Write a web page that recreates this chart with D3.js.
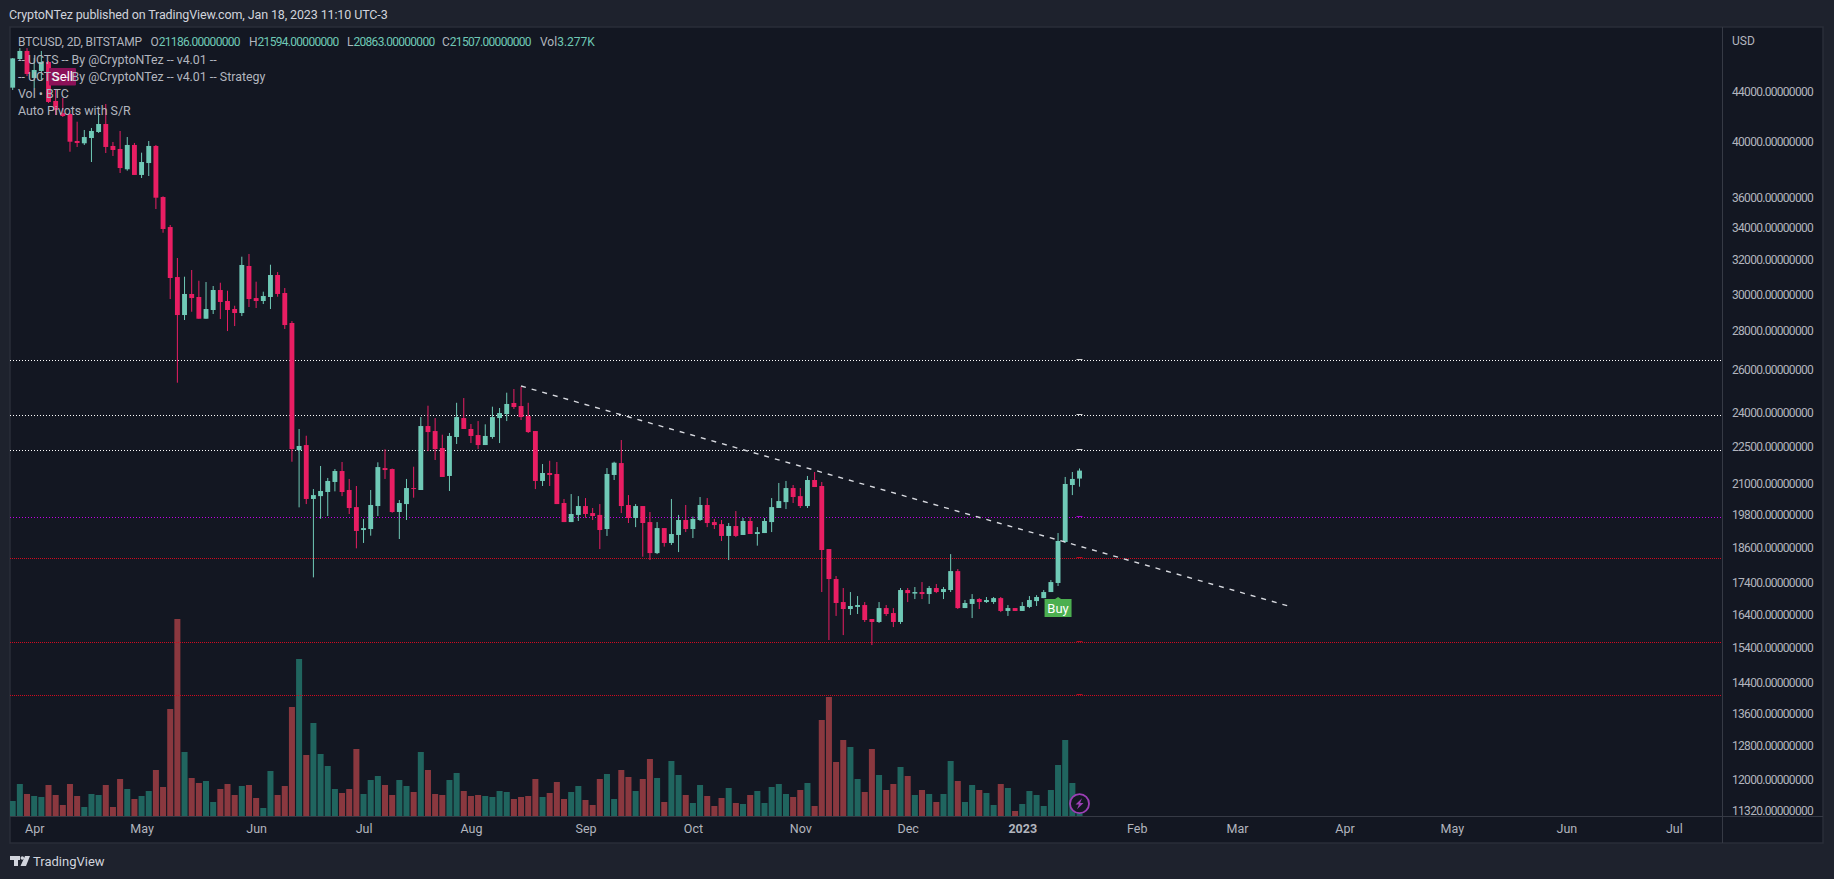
<!DOCTYPE html>
<html>
<head>
<meta charset="utf-8">
<title>BTCUSD</title>
<script src="https://cdn.jsdelivr.net/npm/d3@7"></script>
<style>
  html, body { margin: 0; padding: 0; background: #1e222d; overflow: hidden; }
  text { font-family: Roboto, sans-serif; }
  .domain { display: none; }
</style>
</head>
<body>
<svg id="chart" width="1834" height="879"></svg>
<script>
// BTCUSD 2D candles
var opens = [44320,46785,47500,45140,45740,46520,43220,42230,42170,40075,
  39900,40300,40760,41380,39700,39475,37990,39775,37585,38440,
  39700,36050,34065,30995,28850,30020,29850,28650,29125,30246,
  29625,29180,28960,31650,29790,29625,29850,31115,30075,28420,
  22359,22570,20385,20495,20655,21050,21490,20733,20075,19224,
  19260,20115,21610,21570,19890,20190,20810,20733,23395,23175,
  22445,21290,22915,23750,23265,23000,22570,22915,23750,23930,
  24435,24295,23840,23175,21090,21410,21370,20230,19515,19780,
  20115,19850,19780,19260,21330,21815,20155,19665,20115,19515,
  18405,19295,18760,19045,19591,19260,19591,20155,19515,19440,
  19010,19370,19045,19555,19080,19115,19515,20040,20265,20810,
  20495,20115,21128,20890,18545,17525,16780,16560,16625,16685,
  16250,16160,16590,16435,16160,17165,17050,17100,17035,17230,
  17100,17165,17790,16590,16720,16875,16780,16780,16905,16500,
  16590,16500,16625,16810,16905,17100,17395,18795,20930,21186];

var highs = [46870,47760,47760,46870,47500,46610,44125,43460,42230,41560,
  40915,41070,42250,42975,40000,40840,40375,39925,39200,40075,
  39775,36100,34195,32130,31015,31410,30780,30705,30475,30665,
  30205,29360,32210,32375,30725,30150,31725,31290,30360,28525,
  23265,22970,20770,21695,21210,21570,21860,21170,20890,19630,
  20733,21845,22390,21590,20345,21170,21665,23795,24310,23750,
  23015,23090,24445,24665,23485,23615,23470,24265,24205,24915,
  25090,25200,24445,23175,21775,21910,21860,20385,20575,20495,
  20420,20040,20190,21610,21870,22785,20535,20190,20115,19890,
  19515,19295,20385,19780,20155,19715,20460,20420,19630,19591,
  19480,19925,19665,19700,19330,19665,20420,21010,21090,20930,
  20810,21290,21450,21050,18545,17625,17230,17100,16970,16780,
  16250,16780,16685,16590,17230,17230,17262,17425,17295,17360,
  17262,18370,17860,16844,17035,16905,16940,16940,16940,16685,
  16590,16780,16970,17000,17165,17492,19115,21250,21450,21594];

var lows = [44125,46610,45300,44290,44965,43060,42090,41930,39270,39625,
  39775,38515,40685,39175,38955,37725,37890,37585,37370,37510,
  35245,33700,29735,25390,28580,29030,28650,28650,28905,28635,
  27990,28255,28795,29290,29235,29455,29180,29865,28100,21870,
  20065,20190,17580,19640,19740,20680,20495,19815,18570,18760,
  19020,19740,21170,19860,18900,19591,20435,20733,22315,21941,
  21250,20695,22615,23265,22655,22400,22570,22840,22655,23615,
  24160,23662,23090,20770,20890,20890,20190,19515,19515,19555,
  19675,19591,18545,19010,21128,19850,19480,19330,18280,18165,
  18370,18630,18690,18440,19150,18935,19555,19330,19260,18830,
  18165,18970,19045,19080,18665,19115,19150,20040,20000,20230,
  20040,20040,20850,17100,15618,16345,15765,16375,16405,16160,
  15470,16130,16345,16005,16100,16780,16875,16875,16720,17065,
  16875,17100,16560,16590,16280,16560,16750,16720,16465,16345,
  16500,16500,16590,16655,16905,17100,17295,18760,20535,20863];

var closes = [46840,47500,45480,45820,46520,43140,42490,42010,40020,39925,
  40375,40840,41380,39625,39400,38080,39775,37585,38515,39700,
  36005,33940,30940,28850,30020,29790,28650,29180,30246,29570,
  29125,28960,31710,29735,29625,29905,31115,30020,28310,22400,
  22530,20385,20535,20695,21090,21490,20655,20040,19190,19295,
  20155,21650,21530,19890,20230,20810,20770,23395,23130,22400,
  21250,22960,23795,23265,22960,22570,22960,23795,23975,24390,
  24250,23795,23130,21090,21410,21330,20190,19515,19815,20115,
  19815,19740,19224,21370,21830,20115,19665,20115,19480,18405,
  19295,18760,19080,19591,19260,19630,20155,19480,19405,19010,
  19370,19010,19555,19080,19150,19555,20075,20305,20810,20460,
  20115,21128,20850,18512,17525,16750,16560,16655,16685,16220,
  16160,16590,16405,16160,17165,17065,17100,17035,17230,17100,
  17197,17790,16590,16750,16875,16780,16844,16905,16500,16590,
  16500,16655,16844,16940,17100,17425,18830,20970,21170,21507];

// volume in thousand BTC
var volumes = [7.5,16,11,10,9.5,15.5,10.5,5.5,16,10,
  4.5,11,10.5,15.5,4.5,18.5,13.5,8.5,10,12.5,
  23,14.5,53.5,98.5,32,19,16.5,17.5,7,13.5,
  16,10.5,15,15.5,9,4,22.5,10.5,15,54.5,
  78.5,30.5,46.5,31,25,13.5,11.5,13.5,33.5,11,
  18,20,15.5,10.5,18,15,12,32,23,11,
  10.5,18,21.5,12.5,10,10.5,10,9.5,12.5,12,
  8.5,9.5,10,18.5,9.5,11.5,17,8.5,12,15,
  8,5.5,18.5,21,8.5,23,19.5,12.5,18.5,28.5,
  19,7,27.5,20.5,10.5,6.5,15.5,10,5,9,
  14,6.5,6,10.5,12.5,6.5,14.5,16,11,9.5,
  13,16.5,5,48,59.5,27,38,34.5,18.5,12,
  33.5,20.5,13,16,24.5,20,10.5,13,11,7,
  11,27.5,17.5,7,15.5,13,11.5,5.5,16,14,
  2.5,6,12.5,10.5,5,13,25.5,38,16.5,3.277];

var priceTicks = [44000,40000,36000,34000,32000,30000,28000,26000,24000,22500,
  21000,19800,18600,17400,16400,15400,14400,13600,12800,12000,11320];

var timeTickBars = [3,18,34,49,64,80,95,110,125,141,157,171,186,201,217,232];
var timeLabels = ["Apr","May","Jun","Jul","Aug","Sep","Oct","Nov","Dec","2023","Feb","Mar","Apr","May","Jun","Jul"];

var whiteLevels = [26480,23870,22345];
var purpleLevels = [19715];
var redLevels = [18225,15570,14070];

var trendBars = [71,178];
var trendPrices = [25230,16665];

var legendLines = ["-- UCTS -- By @CryptoNTez -- v4.01 --",
  "-- UCTS -- By @CryptoNTez -- v4.01 -- Strategy",
  "Vol \u2022 BTC",
  "Auto Pivots with S/R"];

var sellBar = 5, buyBar = 146;

var plot = {left: 10, right: 1722, top: 28, bottom: 816, outerRight: 1823, outerBottom: 843};
var upColor = "#6fc9b6", downColor = "#e91e63", volUp = "#20655f", volDown = "#8a383f";
var axisText = "#b2b5be";

var svg = d3.select("#chart");

var x = d3.scaleLinear().domain([0, 232]).range([12.7, 1673.8]);
var y = d3.scaleLog().domain([11320, 44000]).range([810.5, 91.5]);
var yVol = d3.scaleLinear().domain([0, 100]).range([816, 616]);

var barStep = x(1) - x(0);
var idx = d3.range(opens.length);

// panel
svg.append("rect").attr("width", 1834).attr("height", 879).attr("fill", "#1e222d");
svg.append("rect")
  .attr("x", plot.left).attr("y", plot.top - 1)
  .attr("width", plot.outerRight - plot.left).attr("height", plot.outerBottom - plot.top + 1)
  .attr("fill", "#131722").attr("stroke", "#2a2e39").attr("stroke-width", 1.5);

var defs = svg.append("defs");
defs.append("clipPath").attr("id", "plotClip").append("rect")
  .attr("x", plot.left).attr("y", plot.top)
  .attr("width", plot.right - plot.left).attr("height", plot.bottom - plot.top);

var g = svg.append("g").attr("clip-path", "url(#plotClip)");

// volume
g.selectAll(".vol")
  .data(idx)
  .enter().append("rect")
  .attr("class", "vol")
  .attr("x", function(i) { return x(i) - barStep * 0.42; })
  .attr("width", barStep * 0.84)
  .attr("y", function(i) { return yVol(volumes[i]); })
  .attr("height", function(i) { return yVol(0) - yVol(volumes[i]); })
  .attr("fill", function(i) { return closes[i] >= opens[i] ? volUp : volDown; });

// horizontal levels
function drawLevels(levels, color, dash, opacity) {
  levels.forEach(function(v) {
    var ly = Math.round(y(v)) + 0.5;
    g.append("line")
      .attr("x1", plot.left).attr("x2", plot.right)
      .attr("y1", ly).attr("y2", ly)
      .attr("stroke", color).attr("stroke-width", 1)
      .attr("stroke-dasharray", dash).attr("opacity", opacity);
    g.append("line")
      .attr("x1", x(opens.length - 1) - 3).attr("x2", x(opens.length - 1) + 3)
      .attr("y1", ly - 1).attr("y2", ly - 1)
      .attr("stroke", color).attr("stroke-width", 1).attr("opacity", 0.8);
  });
}
drawLevels(whiteLevels, "#ffffff", "1,2", 1);
drawLevels(purpleLevels, "#c400e8", "1,2", 1);
drawLevels(redLevels, "#d00a20", "1,1", 1);

// candles
g.selectAll(".wick")
  .data(idx)
  .enter().append("line")
  .attr("class", "wick")
  .attr("x1", function(i) { return x(i); })
  .attr("x2", function(i) { return x(i); })
  .attr("y1", function(i) { return y(highs[i]); })
  .attr("y2", function(i) { return y(lows[i]); })
  .attr("stroke", function(i) { return closes[i] >= opens[i] ? upColor : downColor; })
  .attr("stroke-width", 1);

g.selectAll(".body")
  .data(idx)
  .enter().append("rect")
  .attr("class", "body")
  .attr("x", function(i) { return x(i) - barStep * 0.34; })
  .attr("width", barStep * 0.68)
  .attr("y", function(i) { return y(Math.max(opens[i], closes[i])); })
  .attr("height", function(i) { return Math.max(1, Math.abs(y(opens[i]) - y(closes[i]))); })
  .attr("fill", function(i) { return closes[i] >= opens[i] ? upColor : downColor; });

// trend line
g.append("path")
  .datum(d3.zip(trendBars, trendPrices))
  .attr("d", d3.line()
    .x(function(d) { return x(d[0]); })
    .y(function(d) { return y(d[1]); }))
  .attr("fill", "none")
  .attr("stroke", "#d8dae0")
  .attr("stroke-width", 1.4)
  .attr("stroke-dasharray", "5,6");

// buy / sell labels
var sellX = x(sellBar) + 14;
g.append("rect")
  .attr("x", sellX - 13.5).attr("y", 68).attr("width", 27).attr("height", 17.5)
  .attr("rx", 1).attr("fill", "#8c1158");

var buyX = x(buyBar);
g.append("path")
  .attr("d", "M" + (buyX - 13.5) + ",599 H" + (buyX - 3) + " L" + buyX + ",597 L" + (buyX + 3) + ",599 H" + (buyX + 13.5) + " V617 H" + (buyX - 13.5) + " Z")
  .attr("fill", "#4caf50");
g.append("text")
  .attr("x", buyX).attr("y", 612.5).attr("text-anchor", "middle")
  .attr("font-size", 13).attr("fill", "#ffffff").text("Buy");

// bolt icon on the last bar
var iconX = x(opens.length - 1), iconY = 803.7;
g.append("circle")
  .attr("cx", iconX).attr("cy", iconY).attr("r", 9.5)
  .attr("fill", "#131722").attr("stroke", "#9c3fb5").attr("stroke-width", 1.8);
g.append("path")
  .attr("transform", "translate(" + iconX + "," + iconY + ")")
  .attr("d", "M2.5,-5.5 L-4,0.8 H-0.6 L-2.5,5.5 L4,-0.8 H0.6 Z")
  .attr("fill", "#9c3fb5");

// axes
var yAxis = d3.axisRight(y)
  .tickValues(priceTicks)
  .tickSize(0)
  .tickPadding(0)
  .tickFormat(function(d) { return d.toFixed(8); });

svg.append("g")
  .attr("class", "yaxis")
  .attr("transform", "translate(1732,0)")
  .call(yAxis)
  .selectAll("text")
  .attr("font-family", "Roboto, sans-serif")
  .attr("font-size", 12)
  .attr("letter-spacing", "-0.7px")
  .attr("fill", axisText);

var xAxis = d3.axisBottom(x)
  .tickValues(timeTickBars)
  .tickSize(0)
  .tickPadding(0)
  .tickFormat(function(d, i) { return timeLabels[i]; });

svg.append("g")
  .attr("class", "xaxis")
  .attr("transform", "translate(0,824)")
  .call(xAxis)
  .selectAll("text")
  .attr("font-family", "Roboto, sans-serif")
  .attr("font-size", 12.5)
  .attr("font-weight", function(d, i) { return timeLabels[i] === "2023" ? 700 : 400; })
  .attr("fill", axisText);

// axis frame lines
svg.append("line")
  .attr("x1", plot.left).attr("x2", plot.outerRight)
  .attr("y1", 816.5).attr("y2", 816.5)
  .attr("stroke", "#363a45");
svg.append("line")
  .attr("x1", plot.right + 0.5).attr("x2", plot.right + 0.5)
  .attr("y1", plot.top - 1).attr("y2", plot.outerBottom)
  .attr("stroke", "#363a45");

svg.append("text")
  .attr("x", 1732).attr("y", 45)
  .attr("font-size", 12).attr("fill", axisText).text("USD");

// header + footer
svg.append("text")
  .attr("x", 9).attr("y", 19)
  .attr("font-size", 12.5).attr("letter-spacing", "-0.12px").attr("fill", "#d1d4dc")
  .text("CryptoNTez published on TradingView.com, Jan 18, 2023 11:10 UTC-3");

var last = opens.length - 1;
var legendColor = "#b2b5be", valueColor = "#6fc9b6";
var ohlc = [["O", 150.5, opens[last]], ["H", 249, highs[last]], ["L", 347, lows[last]], ["C", 442, closes[last]]];

svg.append("text")
  .attr("x", 18).attr("y", 46)
  .attr("font-size", 12).attr("letter-spacing", "-0.12px").attr("fill", legendColor)
  .text("BTCUSD, 2D, BITSTAMP");

ohlc.forEach(function(d) {
  var t = svg.append("text").attr("x", d[1]).attr("y", 46).attr("font-size", 12).attr("fill", legendColor);
  t.append("tspan").text(d[0]);
  t.append("tspan").attr("fill", valueColor).attr("letter-spacing", "-0.7px").text(d[2].toFixed(8));
});

var volText = svg.append("text").attr("x", 540).attr("y", 46).attr("font-size", 12).attr("fill", legendColor);
volText.append("tspan").text("Vol");
volText.append("tspan").attr("fill", valueColor).text("3.277K");

svg.selectAll(".legend")
  .data(legendLines)
  .enter().append("text")
  .attr("class", "legend")
  .attr("x", 18)
  .attr("y", function(d, i) { return 63.5 + i * 17; })
  .attr("font-size", 12.4)
  .attr("fill", legendColor)
  .text(function(d) { return d; });

// Sell text goes over the legend, as on the chart
svg.append("text")
  .attr("x", sellX).attr("y", 81).attr("text-anchor", "middle")
  .attr("font-size", 13).attr("fill", "#ffffff").text("Sell");

// TradingView logo
svg.append("path")
  .attr("d", "M10,856 H20 V860 H18 V866 H14 V860 H10 Z M25,856 H30 L26,866 H20.5 Z")
  .attr("fill", "#d1d4dc");
svg.append("circle").attr("cx", 22.3).attr("cy", 858).attr("r", 1.8).attr("fill", "#d1d4dc");
svg.append("text")
  .attr("x", 33).attr("y", 866)
  .attr("font-size", 13).attr("fill", "#d1d4dc")
  .text("TradingView");
</script>
</body>
</html>
